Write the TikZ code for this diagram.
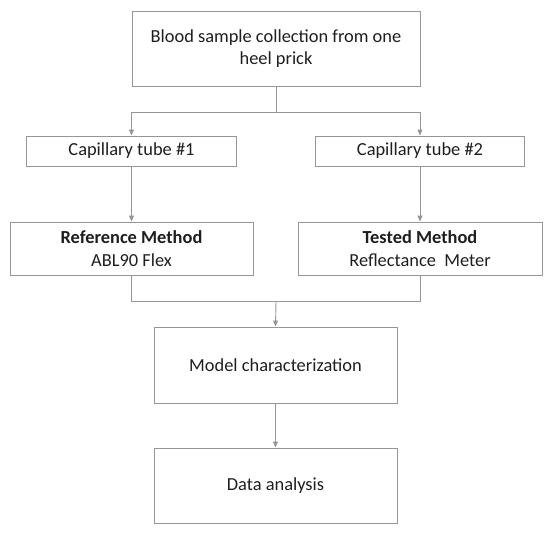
\documentclass[tikz,border=0pt]{standalone}
\usepackage{fontspec}
\setmainfont{Carlito}
\usetikzlibrary{arrows.meta}
\definecolor{linegray}{RGB}{150,150,150}
\definecolor{textgray}{RGB}{30,30,30}
\tikzset{
  box/.style={draw=linegray, line width=0.9pt, text=textgray, align=center,
    inner sep=0pt, font=\fontsize{18.4}{22.5}\selectfont},
  link/.style={draw=linegray, line width=0.9pt},
  arr/.style={link, -{Triangle[width=5pt,length=6pt]}}
}
\begin{document}
\begin{tikzpicture}[x=1pt,y=-1pt]
    \useasboundingbox (0,0) rectangle (550,539);

    \node[box, minimum width=288pt, minimum height=75pt] (sample) at (276,48.5)
        {Blood sample collection from one\\heel prick};

    \node[box, minimum width=210pt, minimum height=30pt] (tube1) at (131.5,151) {Capillary tube \#1};
    \node[box, minimum width=209pt, minimum height=30pt] (tube2) at (420,151) {Capillary tube \#2};

    \node[box, minimum width=243pt, minimum height=53pt] (ref) at (131.5,248.5)
        {\textbf{Reference Method}\\ABL90 Flex};
    \node[box, minimum width=244pt, minimum height=53pt] (tested) at (420,248.5)
        {\textbf{Tested Method}\\Reflectance\ \ Meter};

    \node[box, minimum width=243pt, minimum height=76pt] (model) at (275.5,365) {Model characterization};
    \node[box, minimum width=243pt, minimum height=75pt] (data) at (275.5,485.5) {Data analysis};

    % split to the two tubes
    \coordinate (split) at (276,112);
    \draw[link] (sample.south) -- (split);
    \draw[arr] (split) -| (tube1.north);
    \draw[arr] (split) -| (tube2.north);

    \draw[arr] (tube1.south) -- (ref.north);
    \draw[arr] (tube2.south) -- (tested.north);

    % merge of both methods
    \coordinate (merge) at (276,301);
    \draw[link] (ref.south) |- (merge);
    \draw[link] (tested.south) |- (merge);
    \draw[arr] (merge) -- (model.north);

    \draw[arr] (model.south) -- (data.north);
\end{tikzpicture}
\end{document}
